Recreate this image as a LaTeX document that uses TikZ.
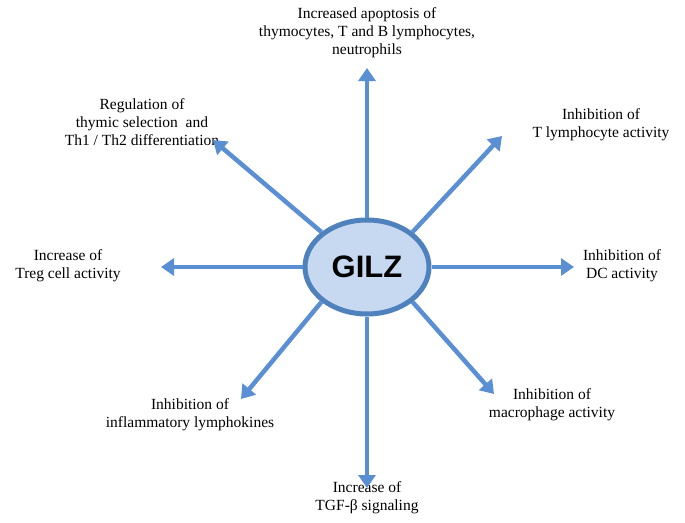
\documentclass[tikz,border=0pt]{standalone}
\usepackage{fontspec}
\setmainfont{Liberation Serif}
\newfontfamily\gilzfont{Liberation Sans}
\usetikzlibrary{arrows.meta,shapes.geometric}
\definecolor{arr}{HTML}{5B8FD4}
\definecolor{efill}{HTML}{C6D9F1}
\definecolor{edraw}{HTML}{4F81BD}
\begin{document}
\begin{tikzpicture}[x=1pt,y=-1pt,
  lab/.style={align=center,font=\fontsize{15.5}{18}\selectfont,inner sep=0pt},
  conn/.style={draw=arr,line width=4.5pt,-{Triangle[length=13pt,width=17pt]}}]
\useasboundingbox (0,0) rectangle (685,522);
\node[ellipse,minimum width=124,minimum height=94,fill=efill,draw=edraw,line width=5pt,font=\gilzfont\fontsize{31}{34}\selectfont\bfseries] (g) at (367,267) {GILZ};
\node[lab] (t) at (367,33) {Increased apoptosis of\\thymocytes, T and B lymphocytes,\\neutrophils};
\node[lab] (ul) at (142,122) {Regulation of\\thymic selection\ \ and\\Th1 / Th2 differentiation};
\node[lab] (ur) at (601,125) {Inhibition of\\T lymphocyte activity};
\node[lab] (l) at (68,266) {Increase of\\Treg cell activity};
\node[lab] (r) at (622,266) {Inhibition of\\DC activity};
\node[lab] (ll) at (190,415) {Inhibition of\\inflammatory lymphokines};
\node[lab] (lr) at (552,405) {Inhibition of\\macrophage activity};
\node[lab] (b) at (367,498) {Increase of\\TGF-β signaling};
\coordinate (et) at (367,68);
\coordinate (eb) at (367,488);
\coordinate (el) at (161,267);
\coordinate (er) at (574,267);
\coordinate (eul) at (213,140);
\coordinate (eur) at (502,136);
\coordinate (ell) at (241,399);
\coordinate (elr) at (494,394);
\draw[conn] (g.north) -- (et);
\draw[conn] (g.south) -- (eb);
\draw[conn] (g.west) -- (el);
\draw[conn] (g.east) -- (er);
\draw[conn] (g.north west) -- (eul);
\draw[conn] (g.north east) -- (eur);
\draw[conn] (g.south west) -- (ell);
\draw[conn] (g.south east) -- (elr);
\end{tikzpicture}
\end{document}
